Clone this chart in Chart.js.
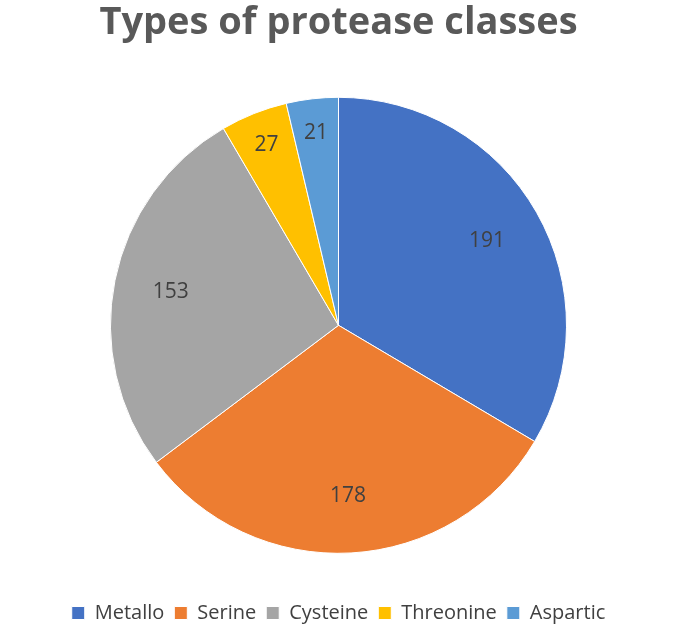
<!DOCTYPE html>
<html><head><meta charset="utf-8">
<script src="https://cdn.jsdelivr.net/npm/chart.js@4"></script>
<style>html,body{margin:0;padding:0;background:#fff}#w{width:685px;height:633px}</style>
</head><body><div id="w"><canvas id="c"></canvas></div>
<script>
const categories=["Metallo","Serine","Cysteine","Threonine","Aspartic"];
const values=[191,178,153,27,21];
const colors=["#4472C4","#ED7D31","#A5A5A5","#FFC000","#5B9BD5"];
const labelPlugin={id:'lbl',afterDatasetsDraw(chart){
  const ctx=chart.ctx;const meta=chart.getDatasetMeta(0);
  ctx.save();ctx.font='21px "Open Sans", sans-serif';ctx.fillStyle='#404040';ctx.textAlign='center';ctx.textBaseline='middle';
  meta.data.forEach((a,i)=>{const m=(a.startAngle+a.endAngle)/2;const r=a.outerRadius*(i>=3?0.85:0.75);
    ctx.fillText(values[i],a.x+Math.cos(m)*r,a.y+Math.sin(m)*r);});
  ctx.restore();}};
new Chart(document.getElementById('c'),{type:'pie',
 data:{labels:categories,datasets:[{data:values,backgroundColor:colors,borderColor:'#fff',borderWidth:1,radius:228}]},
 options:{responsive:true,maintainAspectRatio:false,animation:false,
  layout:{padding:{top:0,bottom:0,left:0,right:8}},
  plugins:{title:{display:true,text:'Types of protease classes',color:'#595959',font:{size:38,weight:'bold',family:'"Open Sans", sans-serif'},padding:{top:0,bottom:12}},
   legend:{position:'bottom',labels:{boxWidth:13,boxHeight:13,color:'#404040',font:{size:20,family:'"Open Sans", sans-serif'},padding:10},},
   tooltip:{enabled:false}}},
 plugins:[labelPlugin]});
</script></body></html>
